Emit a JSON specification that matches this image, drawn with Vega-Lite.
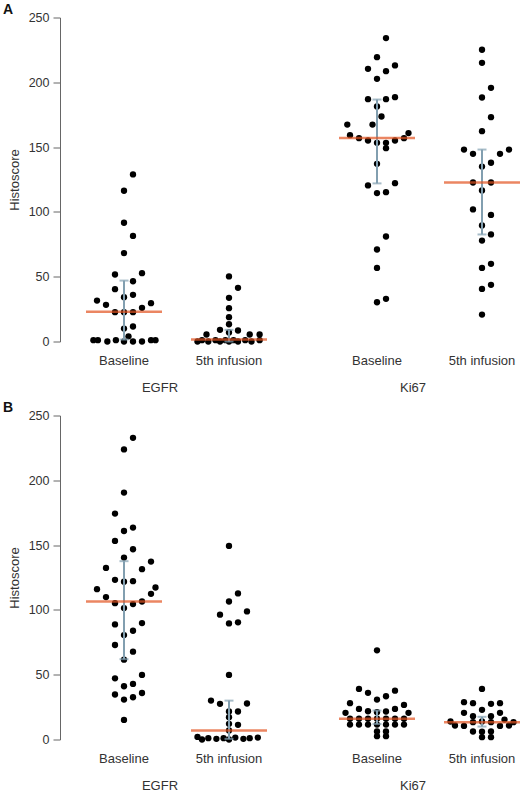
{
"$schema": "https://vega.github.io/schema/vega-lite/v6.json",
"padding": {"left": 3, "top": 2.5, "right": 0, "bottom": 0},
"background": "white",
"config": {
  "view": {"stroke": null},
  "font": "Liberation Sans",
  "axis": {"labelFont": "Liberation Sans", "titleFont": "Liberation Sans", "labelColor": "#333", "titleColor": "#333", "grid": false},
  "title": {"font": "Liberation Sans", "color": "#111"}
},
"datasets": {
"pts": [
{"p":"A","m":"EGFR","t":"Baseline","o":-3.4,"s":1},{"p":"A","m":"EGFR","t":"Baseline","o":-2.9,"s":1},{"p":"A","m":"EGFR","t":"Baseline","o":-1.85,"s":0},{"p":"A","m":"EGFR","t":"Baseline","o":-0.9,"s":1},{"p":"A","m":"EGFR","t":"Baseline","o":0,"s":0},{"p":"A","m":"EGFR","t":"Baseline","o":1,"s":0},{"p":"A","m":"EGFR","t":"Baseline","o":2,"s":0},{"p":"A","m":"EGFR","t":"Baseline","o":3,"s":1},{"p":"A","m":"EGFR","t":"Baseline","o":3.5,"s":1},{"p":"A","m":"EGFR","t":"Baseline","o":0.5,"s":4},{"p":"A","m":"EGFR","t":"Baseline","o":0,"s":10},{"p":"A","m":"EGFR","t":"Baseline","o":1,"s":11.6},{"p":"A","m":"EGFR","t":"Baseline","o":-1,"s":22.6},{"p":"A","m":"EGFR","t":"Baseline","o":0,"s":22.6},{"p":"A","m":"EGFR","t":"Baseline","o":1,"s":22.6},{"p":"A","m":"EGFR","t":"Baseline","o":2,"s":26},{"p":"A","m":"EGFR","t":"Baseline","o":3,"s":29.6},{"p":"A","m":"EGFR","t":"Baseline","o":-3,"s":31.6},{"p":"A","m":"EGFR","t":"Baseline","o":-2,"s":28.3},{"p":"A","m":"EGFR","t":"Baseline","o":0,"s":34.2},{"p":"A","m":"EGFR","t":"Baseline","o":1,"s":36},{"p":"A","m":"EGFR","t":"Baseline","o":-1,"s":40.4},{"p":"A","m":"EGFR","t":"Baseline","o":1,"s":46.5},{"p":"A","m":"EGFR","t":"Baseline","o":-1,"s":51.7},{"p":"A","m":"EGFR","t":"Baseline","o":2,"s":52.7},{"p":"A","m":"EGFR","t":"Baseline","o":0,"s":68.2},{"p":"A","m":"EGFR","t":"Baseline","o":1,"s":81.5},{"p":"A","m":"EGFR","t":"Baseline","o":0,"s":91.6},{"p":"A","m":"EGFR","t":"Baseline","o":0,"s":116.3},{"p":"A","m":"EGFR","t":"Baseline","o":1,"s":128.9},
{"p":"A","m":"EGFR","t":"5th infusion","o":-3.5,"s":0},{"p":"A","m":"EGFR","t":"5th infusion","o":-3,"s":1},{"p":"A","m":"EGFR","t":"5th infusion","o":-2.3,"s":0},{"p":"A","m":"EGFR","t":"5th infusion","o":-1.5,"s":1},{"p":"A","m":"EGFR","t":"5th infusion","o":-1,"s":0},{"p":"A","m":"EGFR","t":"5th infusion","o":-0.4,"s":1},{"p":"A","m":"EGFR","t":"5th infusion","o":0,"s":0},{"p":"A","m":"EGFR","t":"5th infusion","o":0.5,"s":1},{"p":"A","m":"EGFR","t":"5th infusion","o":1,"s":0},{"p":"A","m":"EGFR","t":"5th infusion","o":1.8,"s":1},{"p":"A","m":"EGFR","t":"5th infusion","o":2.5,"s":0},{"p":"A","m":"EGFR","t":"5th infusion","o":3.4,"s":1},{"p":"A","m":"EGFR","t":"5th infusion","o":-2.5,"s":5.4},{"p":"A","m":"EGFR","t":"5th infusion","o":2.3,"s":5.4},{"p":"A","m":"EGFR","t":"5th infusion","o":3.4,"s":5.4},{"p":"A","m":"EGFR","t":"5th infusion","o":0,"s":7},{"p":"A","m":"EGFR","t":"5th infusion","o":-1,"s":9},{"p":"A","m":"EGFR","t":"5th infusion","o":1,"s":8.5},{"p":"A","m":"EGFR","t":"5th infusion","o":0,"s":13.3},{"p":"A","m":"EGFR","t":"5th infusion","o":0,"s":18.8},{"p":"A","m":"EGFR","t":"5th infusion","o":0,"s":25.7},{"p":"A","m":"EGFR","t":"5th infusion","o":0,"s":33.7},{"p":"A","m":"EGFR","t":"5th infusion","o":1,"s":41.4},{"p":"A","m":"EGFR","t":"5th infusion","o":0,"s":50.2},
{"p":"A","m":"Ki67","t":"Baseline","o":1,"s":234.1},{"p":"A","m":"Ki67","t":"Baseline","o":0,"s":219.4},{"p":"A","m":"Ki67","t":"Baseline","o":-1,"s":210.4},{"p":"A","m":"Ki67","t":"Baseline","o":1,"s":208.6},{"p":"A","m":"Ki67","t":"Baseline","o":2,"s":213},{"p":"A","m":"Ki67","t":"Baseline","o":0,"s":202.7},{"p":"A","m":"Ki67","t":"Baseline","o":-1,"s":187},{"p":"A","m":"Ki67","t":"Baseline","o":1,"s":187},{"p":"A","m":"Ki67","t":"Baseline","o":2,"s":188.5},{"p":"A","m":"Ki67","t":"Baseline","o":0,"s":181.3},{"p":"A","m":"Ki67","t":"Baseline","o":0.5,"s":173.6},{"p":"A","m":"Ki67","t":"Baseline","o":-3.3,"s":167.4},{"p":"A","m":"Ki67","t":"Baseline","o":-0.5,"s":167.4},{"p":"A","m":"Ki67","t":"Baseline","o":-3,"s":159.2},{"p":"A","m":"Ki67","t":"Baseline","o":-2,"s":156.9},{"p":"A","m":"Ki67","t":"Baseline","o":-1,"s":155.1},{"p":"A","m":"Ki67","t":"Baseline","o":0,"s":153.3},{"p":"A","m":"Ki67","t":"Baseline","o":1,"s":153.3},{"p":"A","m":"Ki67","t":"Baseline","o":2,"s":155.1},{"p":"A","m":"Ki67","t":"Baseline","o":3,"s":156.9},{"p":"A","m":"Ki67","t":"Baseline","o":3.5,"s":160.8},{"p":"A","m":"Ki67","t":"Baseline","o":1,"s":149.2},{"p":"A","m":"Ki67","t":"Baseline","o":0,"s":137.1},{"p":"A","m":"Ki67","t":"Baseline","o":-1,"s":120.4},{"p":"A","m":"Ki67","t":"Baseline","o":2,"s":122.2},{"p":"A","m":"Ki67","t":"Baseline","o":0,"s":114.5},{"p":"A","m":"Ki67","t":"Baseline","o":1,"s":115.2},{"p":"A","m":"Ki67","t":"Baseline","o":1,"s":81},{"p":"A","m":"Ki67","t":"Baseline","o":0,"s":71},{"p":"A","m":"Ki67","t":"Baseline","o":0,"s":56.8},{"p":"A","m":"Ki67","t":"Baseline","o":0,"s":30.3},{"p":"A","m":"Ki67","t":"Baseline","o":1,"s":32.9},
{"p":"A","m":"Ki67","t":"5th infusion","o":0,"s":225.1},{"p":"A","m":"Ki67","t":"5th infusion","o":0,"s":215},{"p":"A","m":"Ki67","t":"5th infusion","o":1,"s":195.7},{"p":"A","m":"Ki67","t":"5th infusion","o":0,"s":188.3},{"p":"A","m":"Ki67","t":"5th infusion","o":1,"s":173.1},{"p":"A","m":"Ki67","t":"5th infusion","o":0,"s":162.3},{"p":"A","m":"Ki67","t":"5th infusion","o":-2,"s":148.1},{"p":"A","m":"Ki67","t":"5th infusion","o":-1,"s":144.8},{"p":"A","m":"Ki67","t":"5th infusion","o":2,"s":144.8},{"p":"A","m":"Ki67","t":"5th infusion","o":3,"s":148.1},{"p":"A","m":"Ki67","t":"5th infusion","o":0,"s":135},{"p":"A","m":"Ki67","t":"5th infusion","o":1,"s":137.9},{"p":"A","m":"Ki67","t":"5th infusion","o":-1,"s":122.7},{"p":"A","m":"Ki67","t":"5th infusion","o":1,"s":122.7},{"p":"A","m":"Ki67","t":"5th infusion","o":0,"s":116.5},{"p":"A","m":"Ki67","t":"5th infusion","o":-1,"s":101.9},{"p":"A","m":"Ki67","t":"5th infusion","o":1,"s":97.7},{"p":"A","m":"Ki67","t":"5th infusion","o":0,"s":89.5},{"p":"A","m":"Ki67","t":"5th infusion","o":1,"s":82.6},{"p":"A","m":"Ki67","t":"5th infusion","o":0,"s":77.9},{"p":"A","m":"Ki67","t":"5th infusion","o":1,"s":59.9},{"p":"A","m":"Ki67","t":"5th infusion","o":0,"s":56.8},{"p":"A","m":"Ki67","t":"5th infusion","o":1,"s":43.7},{"p":"A","m":"Ki67","t":"5th infusion","o":0,"s":40.6},{"p":"A","m":"Ki67","t":"5th infusion","o":0,"s":20.8},
{"p":"B","m":"EGFR","t":"Baseline","o":1,"s":232.8},{"p":"B","m":"EGFR","t":"Baseline","o":0,"s":223.8},{"p":"B","m":"EGFR","t":"Baseline","o":0,"s":190.5},{"p":"B","m":"EGFR","t":"Baseline","o":-1,"s":174.3},{"p":"B","m":"EGFR","t":"Baseline","o":1,"s":163.5},{"p":"B","m":"EGFR","t":"Baseline","o":0,"s":160.9},{"p":"B","m":"EGFR","t":"Baseline","o":-1,"s":153.2},{"p":"B","m":"EGFR","t":"Baseline","o":1,"s":146.8},{"p":"B","m":"EGFR","t":"Baseline","o":0,"s":140.4},{"p":"B","m":"EGFR","t":"Baseline","o":-2,"s":132.4},{"p":"B","m":"EGFR","t":"Baseline","o":2,"s":131.4},{"p":"B","m":"EGFR","t":"Baseline","o":3,"s":137.3},{"p":"B","m":"EGFR","t":"Baseline","o":-1,"s":123.2},{"p":"B","m":"EGFR","t":"Baseline","o":0,"s":121.7},{"p":"B","m":"EGFR","t":"Baseline","o":1,"s":122.2},{"p":"B","m":"EGFR","t":"Baseline","o":-3,"s":116},{"p":"B","m":"EGFR","t":"Baseline","o":3.5,"s":117.3},{"p":"B","m":"EGFR","t":"Baseline","o":3,"s":112.4},{"p":"B","m":"EGFR","t":"Baseline","o":-2,"s":109.9},{"p":"B","m":"EGFR","t":"Baseline","o":-1,"s":105.2},{"p":"B","m":"EGFR","t":"Baseline","o":0,"s":101.4},{"p":"B","m":"EGFR","t":"Baseline","o":1,"s":104.5},{"p":"B","m":"EGFR","t":"Baseline","o":2,"s":106.5},{"p":"B","m":"EGFR","t":"Baseline","o":-1,"s":88.8},{"p":"B","m":"EGFR","t":"Baseline","o":2,"s":89.8},{"p":"B","m":"EGFR","t":"Baseline","o":0,"s":80.6},{"p":"B","m":"EGFR","t":"Baseline","o":1,"s":83.9},{"p":"B","m":"EGFR","t":"Baseline","o":-1,"s":72.9},{"p":"B","m":"EGFR","t":"Baseline","o":1,"s":67.8},{"p":"B","m":"EGFR","t":"Baseline","o":0,"s":61.6},{"p":"B","m":"EGFR","t":"Baseline","o":2,"s":49.8},{"p":"B","m":"EGFR","t":"Baseline","o":-1,"s":47.2},{"p":"B","m":"EGFR","t":"Baseline","o":1,"s":42.9},{"p":"B","m":"EGFR","t":"Baseline","o":0,"s":41.1},{"p":"B","m":"EGFR","t":"Baseline","o":-1,"s":34.7},{"p":"B","m":"EGFR","t":"Baseline","o":2,"s":35.9},{"p":"B","m":"EGFR","t":"Baseline","o":0,"s":30.8},{"p":"B","m":"EGFR","t":"Baseline","o":1,"s":32.6},{"p":"B","m":"EGFR","t":"Baseline","o":0,"s":15.1},
{"p":"B","m":"EGFR","t":"5th infusion","o":0,"s":149.4},{"p":"B","m":"EGFR","t":"5th infusion","o":1,"s":112.7},{"p":"B","m":"EGFR","t":"5th infusion","o":0,"s":106.5},{"p":"B","m":"EGFR","t":"5th infusion","o":-1,"s":96.3},{"p":"B","m":"EGFR","t":"5th infusion","o":2,"s":98.8},{"p":"B","m":"EGFR","t":"5th infusion","o":0,"s":89.6},{"p":"B","m":"EGFR","t":"5th infusion","o":1,"s":90.4},{"p":"B","m":"EGFR","t":"5th infusion","o":0,"s":49.8},{"p":"B","m":"EGFR","t":"5th infusion","o":-2,"s":30},{"p":"B","m":"EGFR","t":"5th infusion","o":-1,"s":27.5},{"p":"B","m":"EGFR","t":"5th infusion","o":2,"s":27.8},{"p":"B","m":"EGFR","t":"5th infusion","o":0,"s":21.6},{"p":"B","m":"EGFR","t":"5th infusion","o":1,"s":21.6},{"p":"B","m":"EGFR","t":"5th infusion","o":0,"s":17.2},{"p":"B","m":"EGFR","t":"5th infusion","o":0,"s":12.1},{"p":"B","m":"EGFR","t":"5th infusion","o":1,"s":11.3},{"p":"B","m":"EGFR","t":"5th infusion","o":0,"s":7},{"p":"B","m":"EGFR","t":"5th infusion","o":-3.5,"s":2},{"p":"B","m":"EGFR","t":"5th infusion","o":-3,"s":0},{"p":"B","m":"EGFR","t":"5th infusion","o":-2.3,"s":1},{"p":"B","m":"EGFR","t":"5th infusion","o":-1.4,"s":0.5},{"p":"B","m":"EGFR","t":"5th infusion","o":-0.6,"s":1},{"p":"B","m":"EGFR","t":"5th infusion","o":0,"s":0},{"p":"B","m":"EGFR","t":"5th infusion","o":0.7,"s":1.5},{"p":"B","m":"EGFR","t":"5th infusion","o":1.6,"s":0.5},{"p":"B","m":"EGFR","t":"5th infusion","o":2.3,"s":1},{"p":"B","m":"EGFR","t":"5th infusion","o":3.2,"s":1.5},
{"p":"B","m":"Ki67","t":"Baseline","o":0,"s":68.8},{"p":"B","m":"Ki67","t":"Baseline","o":-2,"s":39},{"p":"B","m":"Ki67","t":"Baseline","o":-1,"s":36},{"p":"B","m":"Ki67","t":"Baseline","o":0,"s":30.8},{"p":"B","m":"Ki67","t":"Baseline","o":1,"s":33.4},{"p":"B","m":"Ki67","t":"Baseline","o":2,"s":37.7},{"p":"B","m":"Ki67","t":"Baseline","o":-3,"s":28},{"p":"B","m":"Ki67","t":"Baseline","o":3,"s":26.7},{"p":"B","m":"Ki67","t":"Baseline","o":-2,"s":23.6},{"p":"B","m":"Ki67","t":"Baseline","o":-1,"s":21.8},{"p":"B","m":"Ki67","t":"Baseline","o":0,"s":21.1},{"p":"B","m":"Ki67","t":"Baseline","o":1,"s":21.6},{"p":"B","m":"Ki67","t":"Baseline","o":2,"s":23.6},{"p":"B","m":"Ki67","t":"Baseline","o":-3.5,"s":20.6},{"p":"B","m":"Ki67","t":"Baseline","o":3.5,"s":20.6},{"p":"B","m":"Ki67","t":"Baseline","o":-3,"s":16},{"p":"B","m":"Ki67","t":"Baseline","o":-2,"s":16},{"p":"B","m":"Ki67","t":"Baseline","o":-1,"s":16},{"p":"B","m":"Ki67","t":"Baseline","o":0,"s":16},{"p":"B","m":"Ki67","t":"Baseline","o":1,"s":16},{"p":"B","m":"Ki67","t":"Baseline","o":2,"s":16},{"p":"B","m":"Ki67","t":"Baseline","o":3,"s":16},{"p":"B","m":"Ki67","t":"Baseline","o":-3,"s":11.5},{"p":"B","m":"Ki67","t":"Baseline","o":-2,"s":11.5},{"p":"B","m":"Ki67","t":"Baseline","o":-1,"s":11.5},{"p":"B","m":"Ki67","t":"Baseline","o":0,"s":11.5},{"p":"B","m":"Ki67","t":"Baseline","o":1,"s":11.5},{"p":"B","m":"Ki67","t":"Baseline","o":2,"s":11.5},{"p":"B","m":"Ki67","t":"Baseline","o":3,"s":11.5},{"p":"B","m":"Ki67","t":"Baseline","o":0,"s":6.2},{"p":"B","m":"Ki67","t":"Baseline","o":1,"s":6.2},{"p":"B","m":"Ki67","t":"Baseline","o":0,"s":2.6},{"p":"B","m":"Ki67","t":"Baseline","o":1,"s":2.6},
{"p":"B","m":"Ki67","t":"5th infusion","o":0,"s":39},{"p":"B","m":"Ki67","t":"5th infusion","o":-2,"s":28.8},{"p":"B","m":"Ki67","t":"5th infusion","o":-1,"s":28},{"p":"B","m":"Ki67","t":"5th infusion","o":1,"s":27.5},{"p":"B","m":"Ki67","t":"5th infusion","o":2,"s":28},{"p":"B","m":"Ki67","t":"5th infusion","o":-2,"s":20.6},{"p":"B","m":"Ki67","t":"5th infusion","o":0,"s":22.9},{"p":"B","m":"Ki67","t":"5th infusion","o":2,"s":20.6},{"p":"B","m":"Ki67","t":"5th infusion","o":-1,"s":18},{"p":"B","m":"Ki67","t":"5th infusion","o":1,"s":18},{"p":"B","m":"Ki67","t":"5th infusion","o":-3.5,"s":13.9},{"p":"B","m":"Ki67","t":"5th infusion","o":-3,"s":10.8},{"p":"B","m":"Ki67","t":"5th infusion","o":-2,"s":10.5},{"p":"B","m":"Ki67","t":"5th infusion","o":-1,"s":13.4},{"p":"B","m":"Ki67","t":"5th infusion","o":0,"s":13.9},{"p":"B","m":"Ki67","t":"5th infusion","o":1,"s":13.4},{"p":"B","m":"Ki67","t":"5th infusion","o":2,"s":10.5},{"p":"B","m":"Ki67","t":"5th infusion","o":2.5,"s":15.4},{"p":"B","m":"Ki67","t":"5th infusion","o":3,"s":10.8},{"p":"B","m":"Ki67","t":"5th infusion","o":3.5,"s":13.4},{"p":"B","m":"Ki67","t":"5th infusion","o":-1,"s":6.2},{"p":"B","m":"Ki67","t":"5th infusion","o":0,"s":6},{"p":"B","m":"Ki67","t":"5th infusion","o":1,"s":6.2},{"p":"B","m":"Ki67","t":"5th infusion","o":0,"s":1.8},{"p":"B","m":"Ki67","t":"5th infusion","o":1,"s":1.8},
{"p":"A","m":"EGFR","t":"Baseline","med":23,"q1":1.5,"q3":47},
{"p":"A","m":"EGFR","t":"5th infusion","med":1.5,"q1":0,"q3":9},
{"p":"A","m":"Ki67","t":"Baseline","med":157,"q1":122,"q3":186.7},
{"p":"A","m":"Ki67","t":"5th infusion","med":122.7,"q1":82.6,"q3":148.1},
{"p":"B","m":"EGFR","t":"Baseline","med":106.5,"q1":62,"q3":137.6},
{"p":"B","m":"EGFR","t":"5th infusion","med":7,"q1":0.5,"q3":30},
{"p":"B","m":"Ki67","t":"Baseline","med":16,"q1":12,"q3":22.3},
{"p":"B","m":"Ki67","t":"5th infusion","med":13.4,"q1":10,"q3":17.5}
]
},
"spacing": 6,
"vconcat": [
{
  "data": {"name": "pts"},
  "transform": [{"filter": "datum.p == 'A'"}],
  "title": {"text": "A", "anchor": "start", "frame": "group", "dx": -57, "dy": 9.5, "fontSize": 14, "fontWeight": "bold"},
  "spacing": 45,
  "facet": {"column": {"field": "m", "type": "nominal", "sort": ["EGFR", "Ki67"], "header": {"title": null, "labelOrient": "bottom", "labelFontSize": 13, "labelPadding": 14, "labelColor": "#333", "labelFont": "Liberation Sans"}}},
  "spec": {
    "width": 200, "height": 324,
    "encoding": {
      "x": {"field": "t", "type": "nominal", "sort": ["Baseline", "5th infusion"], "scale": {"paddingInner": 1, "paddingOuter": 0.4524, "align": 0.6737, "round": false}, "axis": {"title": null, "domain": false, "ticks": false, "labelAngle": 0, "labelFontSize": 13, "labelPadding": 9}}
    },
    "layer": [
      {"transform": [{"filter": "isValid(datum.s)"}], "mark": {"type": "point", "filled": true, "shape": "circle", "size": 40, "color": "black", "opacity": 1},
       "encoding": {"xOffset": {"field": "o", "type": "quantitative", "scale": {"domain": [-5, 5], "range": [-45, 45]}},
         "y": {"field": "s", "type": "quantitative", "title": "Histoscore", "scale": {"domain": [0, 250], "nice": false}, "axis": {"values": [0, 50, 100, 150, 200, 250], "tickSize": 7, "labelPadding": 4, "titlePadding": 7, "domainColor": "#666", "tickColor": "#666", "labelFontSize": 12.5, "titleFontSize": 13, "titleFontWeight": "normal"}}}},
      {"transform": [{"filter": "isValid(datum.med)"}], "mark": {"type": "rule", "color": "#829fb0", "strokeWidth": 2},
       "encoding": {"y": {"field": "q1", "type": "quantitative", "title": "Histoscore"}, "y2": {"field": "q3"}}},
      {"transform": [{"filter": "isValid(datum.med)"}], "mark": {"type": "tick", "color": "#829fb0", "thickness": 2, "size": 9, "orient": "horizontal"},
       "encoding": {"y": {"field": "q1", "type": "quantitative", "title": "Histoscore"}}},
      {"transform": [{"filter": "isValid(datum.med)"}], "mark": {"type": "tick", "color": "#829fb0", "thickness": 2, "size": 9, "orient": "horizontal"},
       "encoding": {"y": {"field": "q3", "type": "quantitative", "title": "Histoscore"}}},
      {"transform": [{"filter": "isValid(datum.med)"}], "mark": {"type": "tick", "color": "#e2531f", "thickness": 2.5, "size": 76, "orient": "horizontal"},
       "encoding": {"y": {"field": "med", "type": "quantitative", "title": "Histoscore"}}}
    ]
  }
},
{
  "data": {"name": "pts"},
  "transform": [{"filter": "datum.p == 'B'"}],
  "title": {"text": "B", "anchor": "start", "frame": "group", "dx": -57, "dy": 9.5, "fontSize": 14, "fontWeight": "bold"},
  "spacing": 45,
  "facet": {"column": {"field": "m", "type": "nominal", "sort": ["EGFR", "Ki67"], "header": {"title": null, "labelOrient": "bottom", "labelFontSize": 13, "labelPadding": 14, "labelColor": "#333", "labelFont": "Liberation Sans"}}},
  "spec": {
    "width": 200, "height": 324,
    "encoding": {
      "x": {"field": "t", "type": "nominal", "sort": ["Baseline", "5th infusion"], "scale": {"paddingInner": 1, "paddingOuter": 0.4524, "align": 0.6737, "round": false}, "axis": {"title": null, "domain": false, "ticks": false, "labelAngle": 0, "labelFontSize": 13, "labelPadding": 9}}
    },
    "layer": [
      {"transform": [{"filter": "isValid(datum.s)"}], "mark": {"type": "point", "filled": true, "shape": "circle", "size": 40, "color": "black", "opacity": 1},
       "encoding": {"xOffset": {"field": "o", "type": "quantitative", "scale": {"domain": [-5, 5], "range": [-45, 45]}},
         "y": {"field": "s", "type": "quantitative", "title": "Histoscore", "scale": {"domain": [0, 250], "nice": false}, "axis": {"values": [0, 50, 100, 150, 200, 250], "tickSize": 7, "labelPadding": 4, "titlePadding": 7, "domainColor": "#666", "tickColor": "#666", "labelFontSize": 12.5, "titleFontSize": 13, "titleFontWeight": "normal"}}}},
      {"transform": [{"filter": "isValid(datum.med)"}], "mark": {"type": "rule", "color": "#829fb0", "strokeWidth": 2},
       "encoding": {"y": {"field": "q1", "type": "quantitative", "title": "Histoscore"}, "y2": {"field": "q3"}}},
      {"transform": [{"filter": "isValid(datum.med)"}], "mark": {"type": "tick", "color": "#829fb0", "thickness": 2, "size": 9, "orient": "horizontal"},
       "encoding": {"y": {"field": "q1", "type": "quantitative", "title": "Histoscore"}}},
      {"transform": [{"filter": "isValid(datum.med)"}], "mark": {"type": "tick", "color": "#829fb0", "thickness": 2, "size": 9, "orient": "horizontal"},
       "encoding": {"y": {"field": "q3", "type": "quantitative", "title": "Histoscore"}}},
      {"transform": [{"filter": "isValid(datum.med)"}], "mark": {"type": "tick", "color": "#e2531f", "thickness": 2.5, "size": 76, "orient": "horizontal"},
       "encoding": {"y": {"field": "med", "type": "quantitative", "title": "Histoscore"}}}
    ]
  }
}
]
}
